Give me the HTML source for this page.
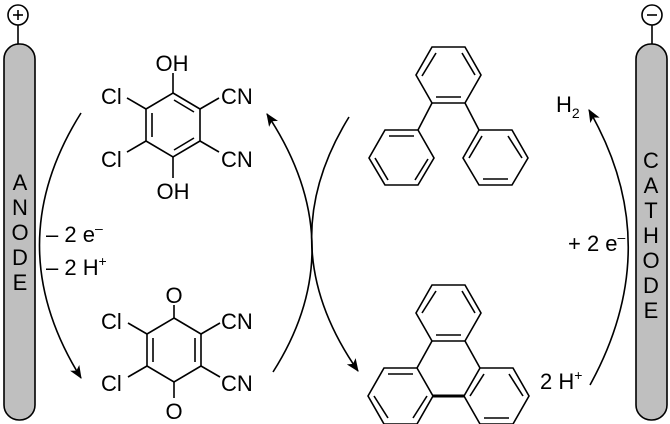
<!DOCTYPE html>
<html><head><meta charset="utf-8"><style>
html,body{margin:0;padding:0;background:#fff;}
svg{display:block;}
text{font-family:"Liberation Sans",sans-serif;fill:#000;}
</style></head><body>
<svg width="670" height="424" viewBox="0 0 670 424" xmlns="http://www.w3.org/2000/svg">
<defs>
<marker id="ah" viewBox="0 0 12 10" refX="11" refY="5" markerWidth="13" markerHeight="11" markerUnits="userSpaceOnUse" orient="auto">
<path d="M0,0 L12,5 L0,10 L3,5 Z" fill="#000"/>
</marker>
</defs>
<g stroke="#000" stroke-width="1.6" fill="none">
<circle cx="18" cy="15" r="10" fill="#fff"/>
<line x1="18" y1="25" x2="18" y2="45"/>
<rect x="4" y="44" width="31" height="376" rx="15" fill="#bfbfbf"/>
<circle cx="652" cy="15" r="10" fill="#fff"/>
<line x1="652" y1="25" x2="652" y2="45"/>
<rect x="636" y="44" width="31" height="376" rx="15" fill="#bfbfbf"/>
<line x1="647" y1="15" x2="657" y2="15"/>
<line x1="13" y1="15" x2="23" y2="15"/><line x1="18" y1="10" x2="18" y2="20"/>
<path d="M81,113 Q-2,245 81,378" marker-end="url(#ah)"/>
<path d="M590,385 Q667,245 589,110" marker-end="url(#ah)"/>
<path d="M273,372 Q354,245 267,114" marker-end="url(#ah)"/>
<path d="M349,117 Q270,245 358,371" marker-end="url(#ah)"/>

<path d="M173,93 L200,109 L200,141 L173,157 L146,141 L146,109 Z"/>
<line x1="174" y1="100" x2="194" y2="112"/>
<line x1="194" y1="138" x2="174" y2="150"/>
<line x1="152" y1="113" x2="152" y2="137"/>
<line x1="173" y1="93" x2="173" y2="73"/>
<line x1="173" y1="157" x2="173" y2="178"/>
<line x1="146" y1="109" x2="127" y2="98"/>
<line x1="146" y1="141" x2="127" y2="152"/>
<line x1="200" y1="109" x2="219" y2="98"/>
<line x1="200" y1="141" x2="219" y2="152"/>

<path d="M174,318 L201,334 L201,366 L174,382 L147,366 L147,334 Z"/>
<line x1="153" y1="338" x2="153" y2="362"/>
<line x1="195" y1="338" x2="195" y2="362"/>
<line x1="174" y1="318" x2="174" y2="305"/>
<line x1="174" y1="382" x2="174" y2="398"/>
<line x1="147" y1="334" x2="128" y2="323"/>
<line x1="147" y1="366" x2="128" y2="377"/>
<line x1="201" y1="334" x2="220" y2="323"/>
<line x1="201" y1="366" x2="220" y2="377"/>

<path d="M432,47 L465,47 L481,75 L465,103 L432,103 L416,75 Z"/>
<line x1="436" y1="53" x2="422" y2="76"/>
<line x1="462" y1="53" x2="475" y2="75"/>
<line x1="436" y1="97" x2="461" y2="97"/>
<line x1="432" y1="103" x2="418" y2="130"/>
<line x1="465" y1="103" x2="479" y2="130"/>
<path d="M385,130 L418,130 L434,158 L418,185 L385,185 L369,158 Z"/>
<line x1="389" y1="136" x2="414" y2="136"/>
<line x1="428" y1="159" x2="415" y2="180"/>
<line x1="375" y1="158" x2="388" y2="180"/>
<path d="M479,130 L512,130 L528,158 L512,185 L479,185 L463,158 Z"/>
<line x1="508" y1="136" x2="522" y2="158"/>
<line x1="483" y1="179" x2="508" y2="179"/>
<line x1="469" y1="158" x2="482" y2="136"/>

<path d="M432,285 L465,285 L481,313 L465,341 L432,341 L416,313 Z"/>
<line x1="436" y1="291" x2="422" y2="313"/>
<line x1="462" y1="291" x2="475" y2="313"/>
<line x1="436" y1="335" x2="461" y2="335"/>
<line x1="432" y1="341" x2="417" y2="368"/>
<line x1="465" y1="341" x2="480" y2="368"/>
<path d="M384,368 L417,368 L433,396 L417,424 L384,424 L368,396 Z"/>
<line x1="388" y1="374" x2="413" y2="374"/>
<line x1="374" y1="396" x2="388" y2="418"/>
<line x1="413" y1="418" x2="427" y2="396"/>
<path d="M480,368 L513,368 L529,396 L513,424 L480,424 L464,396 Z"/>
<line x1="509" y1="374" x2="523" y2="396"/>
<line x1="484" y1="418" x2="509" y2="418"/>
<line x1="470" y1="396" x2="484" y2="374"/>
<line x1="433" y1="396" x2="464" y2="396" stroke-width="3"/>
</g>

<g font-size="22" text-anchor="middle">
<text x="20" y="190">A</text><text x="20" y="215">N</text><text x="20" y="240">O</text><text x="20" y="265">D</text><text x="20" y="290">E</text>
<text x="651" y="168">C</text><text x="651" y="193">A</text><text x="651" y="218">T</text><text x="651" y="243">H</text><text x="651" y="268">O</text><text x="651" y="293">D</text><text x="651" y="318">E</text>
</g>
<g font-size="22">
<text x="172" y="71" text-anchor="middle">OH</text>
<text x="173" y="199" text-anchor="middle">OH</text>
<text x="101" y="104">Cl</text>
<text x="101" y="167">Cl</text>
<text x="221" y="104">CN</text>
<text x="221" y="167">CN</text>
<text x="174" y="303" text-anchor="middle">O</text>
<text x="174" y="419" text-anchor="middle">O</text>
<text x="101" y="329">Cl</text>
<text x="101" y="391">Cl</text>
<text x="221" y="329">CN</text>
<text x="221" y="391">CN</text>
<text x="46" y="242">– 2 e<tspan font-size="14" dy="-9">–</tspan></text>
<text x="46" y="275">– 2 H<tspan font-size="14" dy="9"> </tspan><tspan font-size="14" dx="-4" dy="-18">+</tspan></text>
<text x="568" y="251">+ 2 e<tspan font-size="14" dy="-9">–</tspan></text>
<text x="540" y="389">2 H<tspan font-size="14" dy="-9">+</tspan></text>
<text x="556" y="112">H<tspan font-size="14" dy="6">2</tspan></text>
</g>
</svg>
</body></html>
